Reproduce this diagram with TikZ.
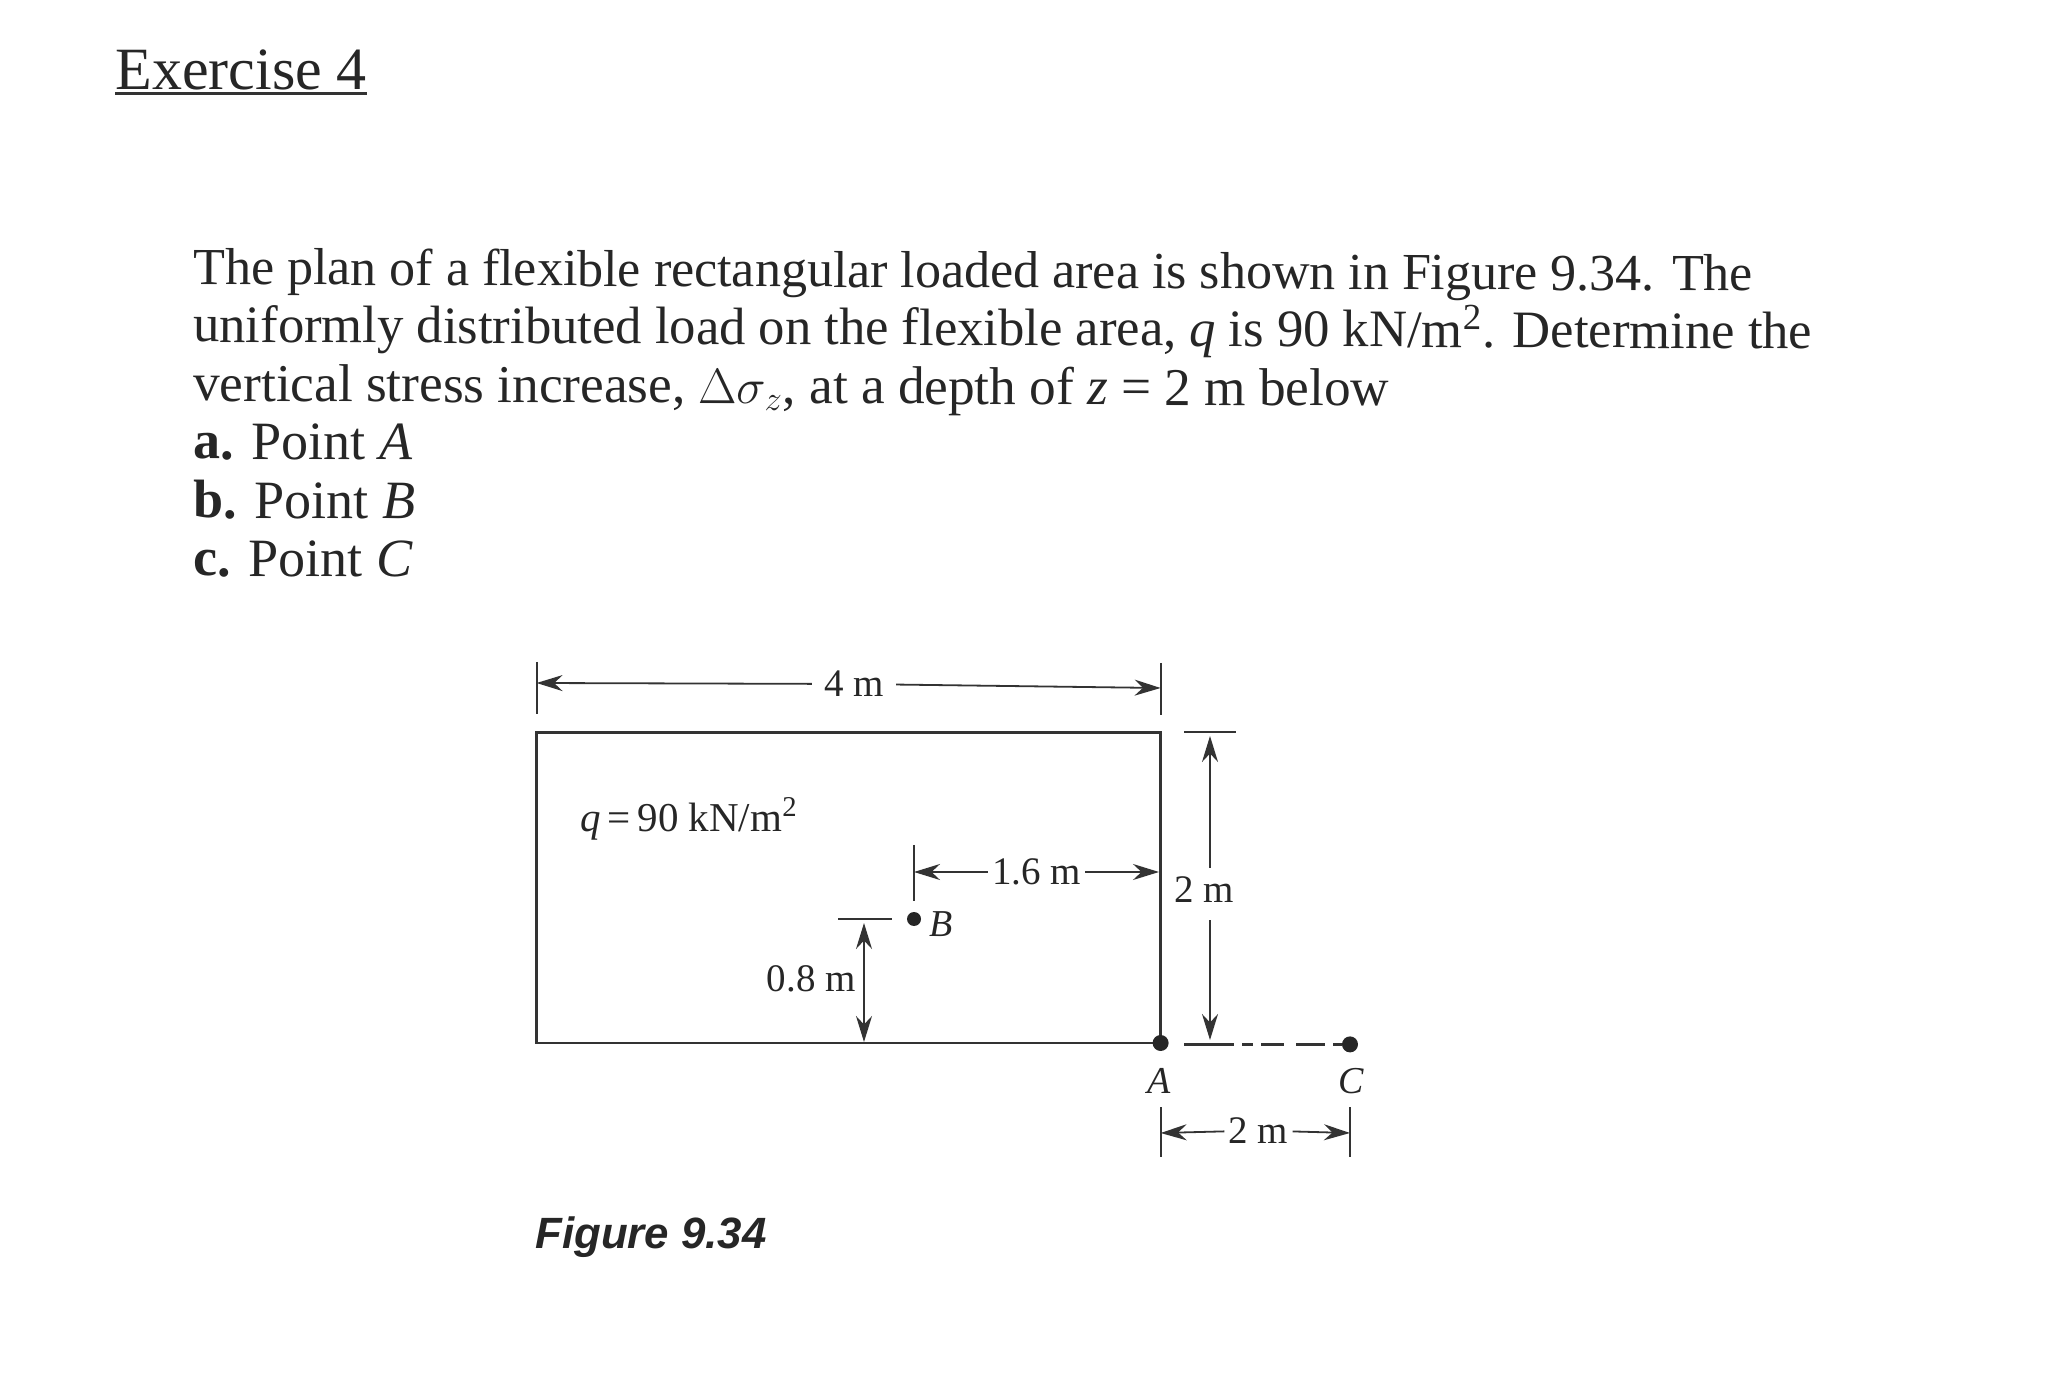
\documentclass[tikz,border=0pt]{standalone}
\usepackage{fontspec}
\setmainfont{Liberation Serif}
\newfontfamily\figfont{Liberation Sans}
\usetikzlibrary{arrows.meta}
\tikzset{
  textline/.style={anchor=base west,inner sep=0pt,rotate=-0.24,font=\fontsize{26}{29}\selectfont,text=black!85},
  dimlabel/.style={inner sep=3pt,font=\fontsize{19.5}{22}\selectfont,text=black!85},
  pointlabel/.style={inner sep=0pt,font=\fontsize{19}{22}\selectfont\itshape,text=black!85},
  pointdot/.style={circle,fill=black!85,inner sep=0pt,minimum size=8pt},
  dimline/.style={-{Stealth[length=13pt,width=8pt]},line width=0.9pt,black!80},
  tickline/.style={line width=0.9pt,black!80},
  edgeline/.style={line width=1.3pt,black!80}
}
\begin{document}
\begin{tikzpicture}[x=0.5pt,y=-0.5pt]
    \useasboundingbox (0,0) rectangle (2046,1384);
    \node (title) [anchor=base west,inner sep=0pt,font=\fontsize{30}{33}\selectfont,text=black!85] at (115,89.5) {Exercise 4};
    \draw [line width=1.3pt,black!80] (title.base west) ++(0,4) coordinate (ula) -- (title.base east |- ula);
    \node (lineone) [textline] at (193,284.4) {The plan of a flexible rectangular loaded area is shown in Figure 9.34. The};
    \node (linetwo) [textline,font=\fontsize{26.3}{29}\selectfont] at (193,342) {uniformly distributed load on the flexible area, \textit{q} is 90 kN/m\textsuperscript{2}. Determine the};
    \node (linethree) [textline,font=\fontsize{26.6}{29}\selectfont] at (193,401) {vertical stress increase, $\Delta\sigma_z$, at a depth of \textit{z} = 2 m below};
    \node (parta) [textline,font=\fontsize{27}{29}\selectfont] at (193,459) {\textbf{a.} Point \textit{A}};
    \node (partb) [textline,font=\fontsize{27}{29}\selectfont] at (193,518) {\textbf{b.} Point \textit{B}};
    \node (partc) [textline,font=\fontsize{27}{29}\selectfont] at (193,576) {\textbf{c.} Point \textit{C}};
    \node (area) [draw=black!80,line width=1.3pt,minimum width=312pt,minimum height=155.3pt,inner sep=0pt] at (848.6,887.7) {};
    \node (ptA) [pointdot] at (1160.6,1043) {};
    \node (ptB) [pointdot,minimum size=7pt] at (914,919) {};
    \node (ptC) [pointdot] at (1350,1044.4) {};
    \node (lblA) [pointlabel] at (1159,1081) {A};
    \node (lblB) [pointlabel] at (941,924) {B};
    \node (lblC) [pointlabel] at (1351,1081) {C};
    \node (load) [inner sep=0pt,font=\fontsize{20.5}{22}\selectfont,text=black!85] at (689,819) {\textit{q}\,=\,90 kN/m\textsuperscript{2}};
    \coordinate (wl) at (536.6,683);
    \coordinate (wr) at (1160.6,688);
    \draw [tickline] (536.6,662) -- (536.6,714);
    \draw [tickline] (1160.6,663) -- (1160.6,715);
    \node (wlabel) [dimlabel,inner sep=6pt] at (854,684) {4 m};
    \draw [dimline] (wlabel) -- (wl);
    \draw [dimline] (wlabel) -- (wr);
    \coordinate (htop) at (1210,736);
    \coordinate (hbot) at (1210,1040);
    \draw [tickline] (1184,732.4) -- (1236,732.4);
    \node (hlabel) [dimlabel,inner sep=5pt] at (1204,890) {2 m};
    \draw [dimline] (1210,868) -- (htop);
    \draw [dimline] (1210,920) -- (hbot);
    \coordinate (dashstart) at (1242,1044.4);
    \draw [edgeline] (1184,1044.4) -- (1234,1044.4);
    \draw [edgeline,dash pattern=on 5.5pt off 4pt on 11.5pt off 6pt on 14.5pt off 4pt on 30pt] (dashstart) -- (ptC);
    \coordinate (bl) at (914,872);
    \coordinate (br) at (1159,872);
    \draw [tickline] (914,845) -- (914,901);
    \node (blabel) [dimlabel,inner sep=2pt] at (1036.6,872) {1.6 m};
    \draw [dimline] (blabel) -- (bl);
    \draw [dimline] (blabel) -- (br);
    \coordinate (dt) at (864,923);
    \coordinate (db) at (864,1042);
    \draw [tickline] (838,919) -- (892,919);
    \draw [dimline] (864,980) -- (dt);
    \draw [dimline] (864,980) -- (db);
    \node (dlabel) [dimlabel,inner sep=0pt,anchor=east] at (856,979) {0.8 m};
    \coordinate (cl) at (1160.6,1133);
    \coordinate (cr) at (1350,1133);
    \draw [tickline] (1160.6,1107) -- (1160.6,1157);
    \draw [tickline] (1350,1107) -- (1350,1157);
    \node (clabel) [dimlabel,inner sep=2pt] at (1258.5,1130.5) {2 m};
    \draw [dimline] (clabel) -- (cl);
    \draw [dimline] (clabel) -- (cr);
    \node (figname) [anchor=base west,inner sep=0pt,font=\figfont\bfseries\itshape\fontsize{21.9}{26}\selectfont,text=black!85] at (535,1248) {Figure 9.34};
\end{tikzpicture}
\end{document}
